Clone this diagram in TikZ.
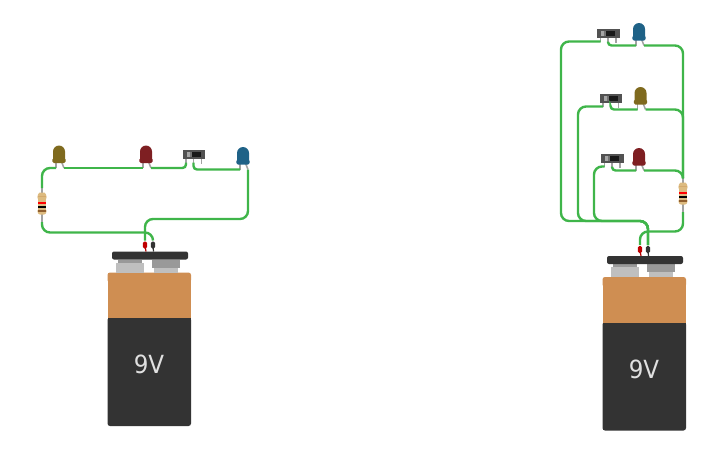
\documentclass[tikz,border=0pt]{standalone}
\usepackage{fontspec}
\setmainfont{DejaVu Sans}
\definecolor{wirec}{HTML}{3FB54A}
\definecolor{legc}{HTML}{A2A2A2}
\definecolor{batk}{HTML}{333333}
\definecolor{bator}{HTML}{CF8E52}
\definecolor{ledy}{HTML}{7F6A1E}
\definecolor{ledr}{HTML}{7E1F22}
\definecolor{ledb}{HTML}{1F6287}
\definecolor{restan}{HTML}{DDBB80}
\tikzset{
  wire/.style={draw=wirec,line width=2.4pt,rounded corners=8pt},
  shortwire/.style={draw=wirec,line width=2.4pt,rounded corners=3.5pt},
  leg/.style={draw=legc,line width=1.5pt},
  pics/led/.style={code={
    \draw[leg] (-3,15) -- (-3,22.5) coordinate (-a);
    \draw[leg] (2,15) -- (5,22.5) coordinate (-c);
    \fill[#1] (-6,15) -- (-6,6) arc[start angle=180,end angle=360,radius=6] -- (6,15) -- cycle;
    \fill[#1,rounded corners=1.5pt] (-6.6,12.5) rectangle (6.6,17.5);
  }},
  pics/slide/.style={code={
    \draw[leg] (3.5,8) -- (3.5,12.5) coordinate (-p1);
    \draw[leg] (11,8) -- (11,12.5) coordinate (-p2);
    \draw[leg] (19,8) -- (19,14);
    \fill[black!68] (0,0) rectangle (22.5,8.5);
    \fill[black!90] (9,1.5) rectangle (18,7);
    \fill[black!35] (4,1.5) rectangle (7,7);
    \fill[black!55] (7,1.5) rectangle (9,7);
  }},
  pics/res/.style={code={
    \draw[leg] (0,0) coordinate (-t) -- (0,34) coordinate (-b);
    \fill[restan] (-2.4,4.5) .. controls (-3.4,5) and (-4.6,7) .. (-4.6,9) -- (-3.8,12) -- (-3.8,21) -- (-4.6,23)
       .. controls (-4.6,25) and (-3.4,26.5) .. (-2.2,26.5) -- (2.2,26.5) .. controls (3.4,26.5) and (4.6,25) .. (4.6,23)
       -- (3.8,21) -- (3.8,12) -- (4.6,9) .. controls (4.6,7) and (3.4,5) .. (2.4,4.5) -- cycle;
    \fill[restan!70!brown] (-4,7.5) rectangle (4,8.5);
    \fill[red] (-3.8,13.7) rectangle (3.8,16.2);
    \fill[black] (-3.8,17.8) rectangle (3.8,20.2);
    \fill[brown!75!black] (-4.4,22) rectangle (4.4,24.2);
  }},
  pics/batt/.style={code={
    \coordinate (-r) at (37.5,-32);
    \coordinate (-k) at (45.5,-32);
    \fill[batk,rounded corners=2.5pt] (0,45) rectangle (83.5,153.5);
    \fill[batk] (0,40) rectangle (83.5,50);
    \fill[bator,rounded corners=2.5pt] (0,0) rectangle (83.5,10);
    \fill[bator] (0,4) rectangle (83.5,45.5);
    \fill[black!40] (10.5,-13) rectangle (34.5,-9);
    \fill[black!25] (8.5,-10) rectangle (36.5,0);
    \fill[black!40] (44.5,-13) rectangle (72.5,-5);
    \fill[black!25] (46.5,-5) rectangle (70.5,0);
    \fill[batk,rounded corners=2pt] (4.5,-21) rectangle (80.5,-13);
    \draw[red!70!black,line width=1.2pt] (37.5,-27) -- (38.5,-21);
    \draw[batk,line width=1.2pt] (45.5,-27) -- (46,-21);
    \fill[red!75!black,rounded corners=1.5pt] (35.3,-31) rectangle (39.7,-24);
    \fill[batk,rounded corners=1.5pt] (43.3,-31) rectangle (47.7,-24);
    \node[text=black!12,inner sep=0pt,xscale=.92,font=\fontsize{25}{25}\selectfont] (-lab) at (41.5,92) {9V};
  }}
}
\begin{document}
\begin{tikzpicture}[x=1pt,y=-1pt]
\useasboundingbox (0,0) rectangle (725,453);
% left circuit
\pic (yA) at (59,145.5) {led=ledy};
\pic (rA) at (146,145.5) {led=ledr};
\pic (bA) at (243,147) {led=ledb};
\pic (sA) at (182.5,150) {slide};
\pic (wA) at (42,188) {res};
\pic (B1) at (107.5,272.5) {batt};
\coordinate (jA) at (153,232.5);
\coordinate (jB) at (248,219);
\draw[wire] (yA-a) -| (wA-t);
\draw[wire] (wA-b) |- (jA) -- (B1-k);
\draw[wire] (B1-r) |- (jB) -- (bA-c);
\draw[shortwire] (yA-c) -- (rA-a);
\draw[shortwire] (sA-p1) |- (rA-c);
\draw[shortwire] (sA-p2) |- (bA-a);
% right circuit
\pic (bB) at (639,23) {led=ledb};
\pic (yB) at (640.5,87) {led=ledy};
\pic (rB) at (639,148) {led=ledr};
\pic (sB) at (597,29) {slide};
\pic (sC) at (599.5,94) {slide};
\pic (sD) at (601,154) {slide};
\pic (wB) at (683,178) {res};
\pic (B2) at (602.5,277) {batt};
\coordinate (l1) at (561,221);
\coordinate (l2) at (578,221);
\coordinate (l3) at (594,221);
\coordinate (jC) at (640,231.5);
\draw[wire] (sB-p1) -| (l1) -| (B2-k);
\draw[wire] (sC-p1) -| (l2) -| (B2-k);
\draw[wire] (sD-p1) -| (l3) -| (B2-k);
\draw[wire] (wB-b) |- (jC) -- (B2-r);
\draw[wire] (bB-c) -| (wB-t);
\draw[wire] (yB-c) -| (wB-t);
\draw[wire] (rB-c) -| (wB-t);
\draw[shortwire] (sB-p2) |- (bB-a);
\draw[shortwire] (sC-p2) |- (yB-a);
\draw[shortwire] (sD-p2) |- (rB-a);
\end{tikzpicture}
\end{document}
